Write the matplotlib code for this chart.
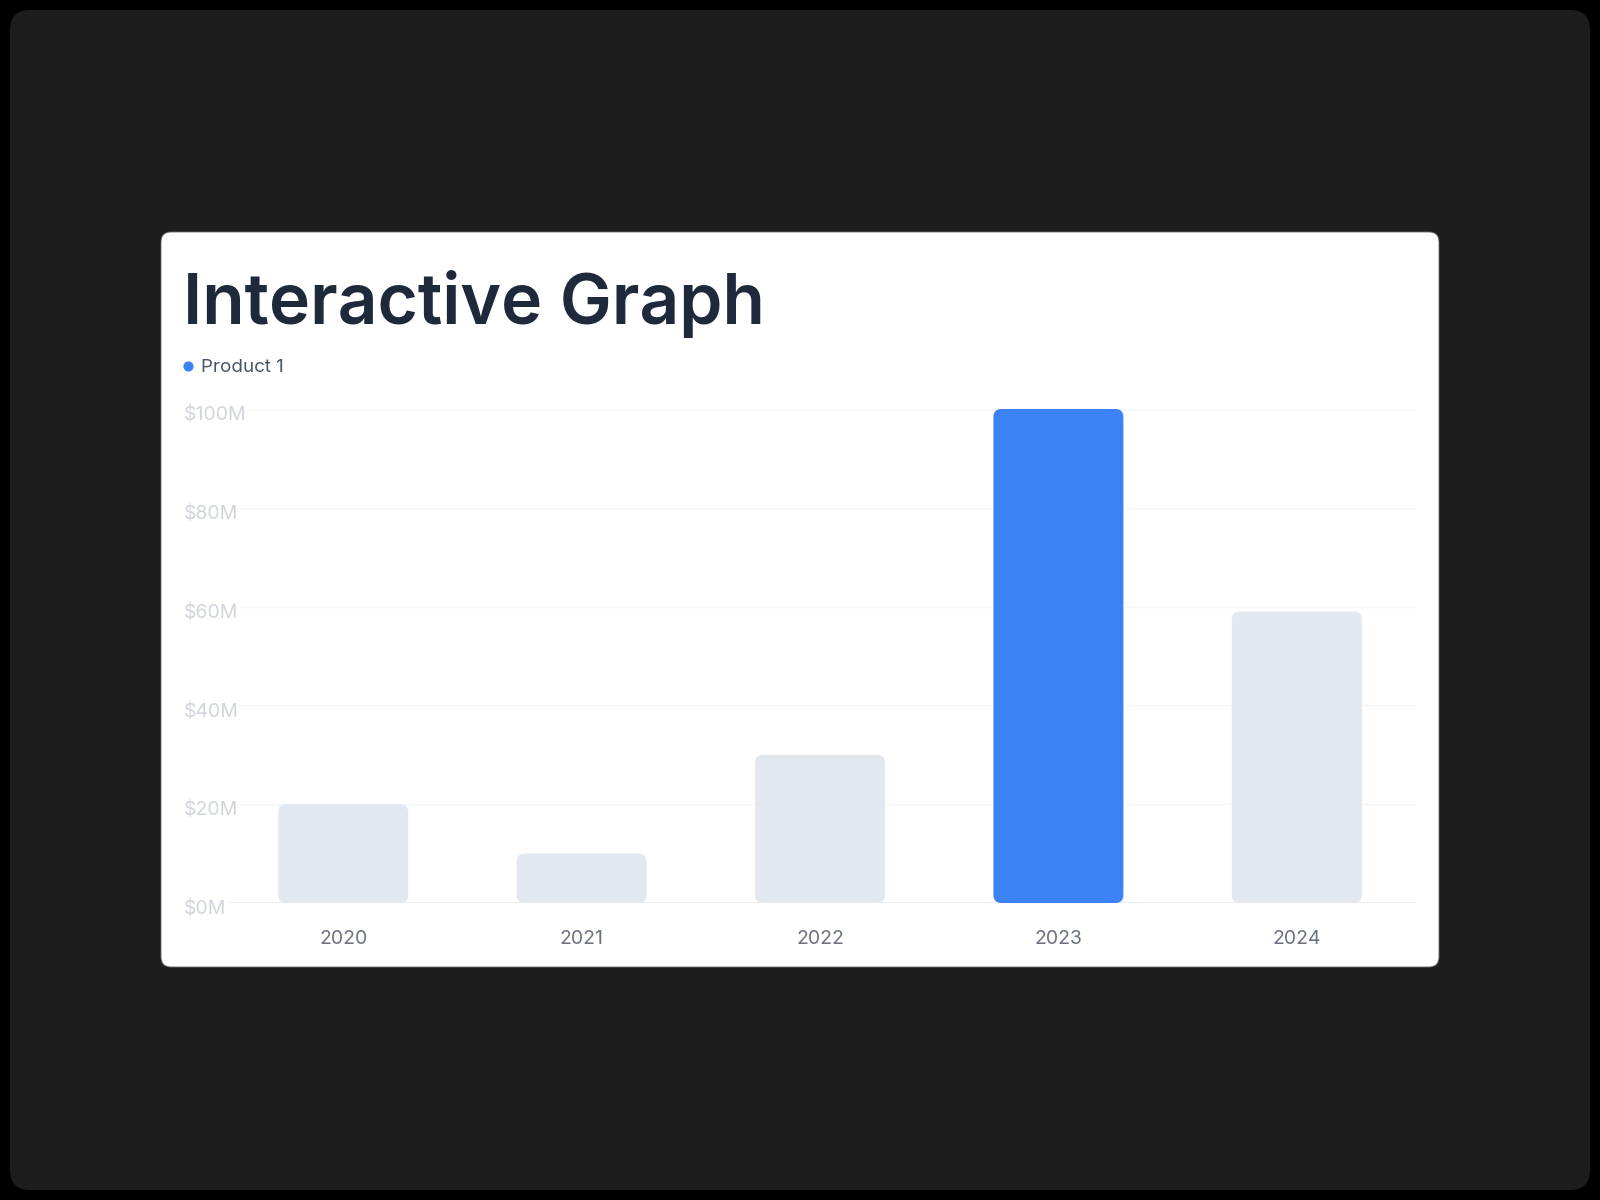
import matplotlib
matplotlib.use("Agg")
import matplotlib.pyplot as plt
from matplotlib.patches import FancyBboxPatch

# ─────────────────────────────────────────────────────────────────────────────
# DATA
years = ["2020", "2021", "2022", "2023", "2024"]
values = [20, 10, 30, 100, 59]          # $M
highlight = "2023"
y_ticks = [0, 20, 40, 60, 80, 100]
y_tick_labels = ["$0M", "$20M", "$40M", "$60M", "$80M", "$100M"]
title = "Interactive Graph"
series_name = "Product 1"
# ─────────────────────────────────────────────────────────────────────────────

W, H = 1600, 1200
BLUE = "#3b82f6"
GREY_BAR = "#e2e8f0"

plt.rcParams["font.family"] = ["Inter", "DejaVu Sans"]

fig = plt.figure(figsize=(16, 12), dpi=100, facecolor="#000000")

# background layer in pixel coordinates (y down)
bg = fig.add_axes([0, 0, 1, 1])
bg.set_xlim(0, W)
bg.set_ylim(H, 0)
bg.axis("off")
bg.add_patch(FancyBboxPatch((10, 10), 1580, 1180,
                            boxstyle="round,pad=0,rounding_size=20",
                            fc="#1d1d1d", ec="none"))
bg.add_patch(FancyBboxPatch((161, 232), 1278, 735,
                            boxstyle="round,pad=0,rounding_size=10",
                            fc="white", ec="#6b6b6b", lw=0.6))

bg.text(183, 324, title, fontsize=50, fontweight="semibold",
        color="#1e293b", va="baseline", ha="left")
bg.scatter([188], [366], s=40, color=BLUE, zorder=3)
bg.text(201, 368, series_name, fontsize=13.5, color="#475569",
        va="center", ha="left")

# chart axes
x0, x1 = 224, 1416
y_top, y_bot = 409, 903
ax = fig.add_axes([x0 / W, 1 - y_bot / H, (x1 - x0) / W, (y_bot - y_top) / H])
ax.set_facecolor("none")
ax.set_xlim(-0.5, len(years) - 0.5)
ax.set_ylim(0, 100)
for s in ax.spines.values():
    s.set_visible(False)
ax.set_xticks([])
ax.set_yticks([])

for t in y_ticks[1:]:
    ax.axhline(t, color="#f6f7f9", lw=1, zorder=0)
ax.axhline(0, color="#eceef1", lw=1.5, zorder=0)

# rounded bars: corner radius ~8 px in both directions
px_x = (len(years)) / (x1 - x0)      # data units per pixel (x)
px_y = 100 / (y_bot - y_top)         # data units per pixel (y)
r = 8 * px_x
bw = 130 * px_x
for i, (yr, v) in enumerate(zip(years, values)):
    c = BLUE if yr == highlight else GREY_BAR
    p = FancyBboxPatch((i - bw / 2, 0), bw, v,
                       boxstyle=f"round,pad=0,rounding_size={r}",
                       mutation_aspect=px_y / px_x,
                       fc=c, ec="none", zorder=2, clip_on=False)
    ax.add_patch(p)
    ax.text(i, -7.2, yr, fontsize=14, color="#6b7280",
            ha="center", va="center", clip_on=False)

# y labels sit on top of the grid lines (white backing hides the line)
for t, lab in zip(y_ticks, y_tick_labels):
    ypix = y_bot - t / px_y + 6
    fig.text(184 / W, 1 - ypix / H, lab, fontsize=14, color="#d1d5db",
             ha="left", va="center",
             bbox=dict(boxstyle="square,pad=0.05", fc="white", ec="none"))

fig.savefig("out.png", dpi=100, facecolor=fig.get_facecolor())
